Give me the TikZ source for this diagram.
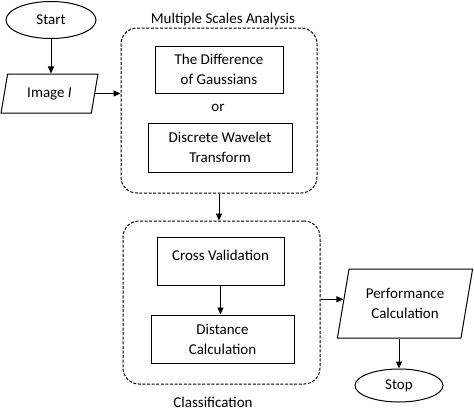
\documentclass[tikz,border=0pt]{standalone}
\usepackage{fontspec}
\setmainfont{Carlito}
\usetikzlibrary{positioning, arrows.meta, calc, shapes.geometric}

\begin{document}
\begin{tikzpicture}[
        x=1pt, y=-1pt,
        font=\fontsize{15}{20}\selectfont,
        terminal/.style={
          draw,
          ellipse,
          line width=1pt,
          inner sep=0pt
        },
        inout/.style={
          draw,
          trapezium,
          trapezium left angle=74,
          trapezium right angle=106,
          trapezium stretches=true,
          line width=1pt,
          inner sep=0pt,
          align=center
        },
        process/.style={
          draw,
          line width=1pt,
          inner sep=0pt,
          align=center
        },
        group/.style={
          draw,
          dash pattern=on 3pt off 1.6pt,
          rounded corners=16pt,
          line width=1pt,
          inner sep=0pt
        },
        flow/.style={-{Triangle[length=7pt,width=6pt]}, line width=0.9pt}
      ]
        \useasboundingbox (0,0) rectangle (474,410);

        \node[terminal, minimum width=90pt, minimum height=37pt] (start) at (51,20) {Start};
        \node[inout, minimum width=97pt, minimum height=39pt] (image) at (49.5,93.5) {Image \textit{I}};

        \node[group, minimum width=196pt, minimum height=165pt] (msa) at (219,110.5) {};
        \node (msatitle) at (223,19) {Multiple Scales Analysis};
        \node[process, minimum width=128pt, minimum height=47pt] (dog) at (219,69.5) {The Difference\\of Gaussians};
        \node (or) at (218,108) {or};
        \node[process, minimum width=144pt, minimum height=49pt] (dwt) at (220,147.5) {Discrete Wavelet\\Transform};

        \node[group, minimum width=197pt, minimum height=163pt] (cls) at (221.5,302.5) {};
        \node (clstitle) at (213,402) {Classification};
        \node[process, minimum width=127pt, minimum height=48pt] (crossval) at (220.5,261) {Cross Validation\\[-8pt]\mbox{}};
        \node[process, minimum width=143pt, minimum height=48pt] (distcalc) at (222.5,339) {Distance\\Calculation};

        \node[inout, trapezium left angle=75, trapezium right angle=105, minimum width=136pt, minimum height=69pt] (perf) at (405,303.5) {Performance\\Calculation};
        \node[terminal, minimum width=88pt, minimum height=33pt] (stop) at (399,385.5) {Stop};

        \coordinate (imageright) at ($(image.bottom right corner)!0.5!(image.top right corner)$);
        \coordinate (perfleft) at ($(perf.bottom left corner)!0.56!(perf.top left corner)$);

        \draw[flow] (start.south) -- (image.north -| start.south);
        \draw[flow] (imageright) -- (imageright -| msa.west);
        \draw[flow] (msa.south) -- (msa.south |- cls.north);
        \draw[flow] (crossval.south) -- (crossval.south |- distcalc.north);
        \draw[flow] (perfleft -| cls.east) -- (perfleft);
        \draw[flow] (perf.south -| stop.north) -- (stop.north);
      \end{tikzpicture}
\end{document}
